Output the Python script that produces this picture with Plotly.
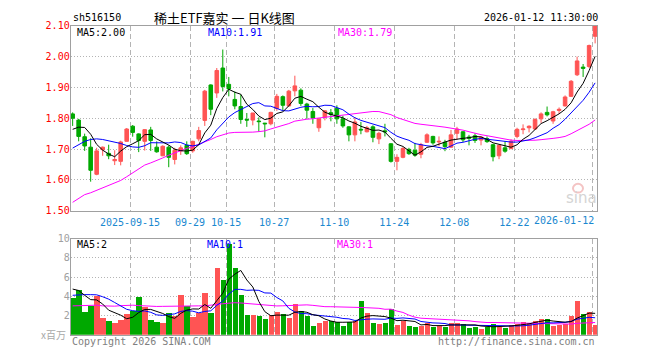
import pandas as pd
import plotly.graph_objects as go

# ---------------- data ----------------
dates = ["2025-09-15", "09-29", "10-15", "10-27", "11-10", "11-24", "12-08", "12-22", "2026-01-12"]
date_index = [10, 20, 26, 34, 44, 54, 64, 74, 87]

opens = [1.814, 1.794, 1.740, 1.706, 1.618, 1.698, 1.686, 1.662, 1.660, 1.725,
         1.774, 1.749, 1.725, 1.762, 1.706, 1.678, 1.706, 1.666, 1.694, 1.712,
         1.694, 1.733, 1.793, 1.908, 1.882, 1.963, 1.910, 1.861, 1.838, 1.796,
         1.794, 1.791, 1.784, 1.782, 1.832, 1.870, 1.840, 1.889, 1.891, 1.846,
         1.822, 1.769, 1.803, 1.818, 1.832, 1.798, 1.772, 1.746, 1.764, 1.756,
         1.772, 1.733, 1.759, 1.717, 1.660, 1.673, 1.699, 1.696, 1.683, 1.722,
         1.741, 1.723, 1.722, 1.706, 1.751, 1.756, 1.739, 1.743, 1.729, 1.734,
         1.714, 1.678, 1.704, 1.702, 1.741, 1.763, 1.769, 1.765, 1.798, 1.819,
         1.791, 1.825, 1.840, 1.871, 1.941, 1.966, 1.968, 2.066]
highs = [1.819, 1.798, 1.750, 1.735, 1.704, 1.708, 1.714, 1.696, 1.727, 1.768,
         1.778, 1.751, 1.765, 1.772, 1.725, 1.712, 1.712, 1.704, 1.712, 1.725,
         1.727, 1.772, 1.892, 1.910, 1.963, 2.023, 1.934, 1.887, 1.877, 1.817,
         1.817, 1.803, 1.785, 1.821, 1.879, 1.874, 1.892, 1.938, 1.897, 1.850,
         1.833, 1.800, 1.826, 1.830, 1.842, 1.808, 1.774, 1.803, 1.788, 1.775,
         1.777, 1.756, 1.782, 1.719, 1.683, 1.706, 1.704, 1.720, 1.720, 1.751,
         1.743, 1.741, 1.730, 1.762, 1.772, 1.758, 1.746, 1.751, 1.741, 1.741,
         1.717, 1.714, 1.725, 1.732, 1.769, 1.780, 1.777, 1.800, 1.819, 1.838,
         1.824, 1.835, 1.874, 1.924, 2.000, 1.976, 2.039, 2.100]
lows = [1.775, 1.725, 1.694, 1.594, 1.615, 1.678, 1.667, 1.648, 1.647, 1.725,
        1.740, 1.690, 1.695, 1.694, 1.688, 1.677, 1.641, 1.650, 1.681, 1.681,
        1.688, 1.725, 1.775, 1.810, 1.866, 1.887, 1.871, 1.829, 1.782, 1.772,
        1.777, 1.756, 1.738, 1.777, 1.824, 1.824, 1.838, 1.871, 1.840, 1.798,
        1.782, 1.756, 1.793, 1.790, 1.782, 1.769, 1.725, 1.725, 1.748, 1.754,
        1.722, 1.716, 1.741, 1.656, 1.631, 1.670, 1.681, 1.675, 1.670, 1.720,
        1.714, 1.709, 1.693, 1.704, 1.730, 1.723, 1.712, 1.720, 1.712, 1.720,
        1.660, 1.667, 1.688, 1.699, 1.735, 1.748, 1.754, 1.762, 1.785, 1.806,
        1.782, 1.814, 1.838, 1.869, 1.937, 1.934, 1.963, 2.043]
closes = [1.800, 1.741, 1.710, 1.631, 1.694, 1.706, 1.678, 1.666, 1.723, 1.765,
          1.754, 1.728, 1.763, 1.728, 1.691, 1.709, 1.673, 1.696, 1.704, 1.685,
          1.725, 1.760, 1.888, 1.829, 1.955, 1.903, 1.895, 1.840, 1.796, 1.794,
          1.817, 1.789, 1.782, 1.819, 1.871, 1.842, 1.888, 1.905, 1.848, 1.826,
          1.801, 1.798, 1.824, 1.812, 1.798, 1.775, 1.746, 1.788, 1.762, 1.769,
          1.738, 1.751, 1.756, 1.660, 1.673, 1.702, 1.685, 1.680, 1.714, 1.746,
          1.720, 1.725, 1.708, 1.746, 1.765, 1.730, 1.735, 1.728, 1.739, 1.724,
          1.675, 1.712, 1.693, 1.725, 1.764, 1.765, 1.774, 1.796, 1.814, 1.811,
          1.821, 1.829, 1.869, 1.920, 1.986, 1.962, 2.036, 2.100]
volumes = [3.9, 4.7, 2.4, 3.05, 4.05, 1.75, 1.5, 1.25, 1.6, 2.2,
           2.5, 3.95, 2.9, 1.6, 1.35, 1.25, 2.3, 2.0, 4.2, 3.05,
           1.85, 2.25, 4.35, 2.25, 7.0, 5.75, 9.5, 7.0, 4.2, 2.05,
           2.1, 1.95, 1.7, 2.05, 2.4, 2.2, 1.8, 3.2, 2.5, 1.95,
           0.95, 1.25, 1.5, 1.45, 1.33, 0.93, 1.4, 1.5, 3.5, 2.33,
           1.2, 1.1, 1.3, 2.7, 1.0, 1.43, 0.93, 0.8, 0.93, 1.23,
           0.83, 0.9, 0.83, 1.27, 1.2, 1.13, 0.7, 0.8, 0.67, 0.83,
           1.1, 0.83, 0.77, 1.0, 1.17, 1.4, 1.3, 1.5, 1.7, 1.67,
           0.93, 1.07, 1.13, 2.0, 3.5, 2.2, 2.4, 1.0]

# moving-average values at the left edge depend on days before the window
ma5_head = [1.764, 1.771, 1.770, 1.748]
ma10_head = [1.703, 1.715, 1.725, 1.731, 1.733, 1.731, 1.727, 1.722, 1.718]
ma30_head = [1.527, 1.540, 1.552, 1.558, 1.566, 1.573, 1.580, 1.589, 1.598, 1.610,
             1.622, 1.636, 1.648, 1.655, 1.662, 1.671, 1.680, 1.688, 1.696, 1.702,
             1.708, 1.715, 1.723, 1.731, 1.740, 1.747, 1.752, 1.754, 1.754]
vma5_head = [4.75, 4.6, 4.1, 3.65]
vma10_head = [4.1, 4.15, 4.17, 4.17, 4.15, 3.95, 3.7, 3.35, 3.0]
vma30_head = [3.0, 3.02, 3.04, 3.05, 3.07, 3.0, 2.95, 2.97, 3.02, 3.05,
              3.07, 3.03, 2.98, 2.95, 2.94, 2.95, 2.97, 2.98, 3.0, 3.0,
              3.0, 3.0, 3.0, 3.05, 3.15, 3.22, 3.28, 3.33, 3.3]

price_ticks = [1.50, 1.60, 1.70, 1.80, 1.90, 2.00, 2.10]
vol_ticks = [2, 4, 6, 8, 10]


def moving_avg(values, n, head):
    s = pd.Series(values, dtype=float).rolling(n).mean()
    s.iloc[:n - 1] = head
    return s.tolist()


ma5 = moving_avg(closes, 5, ma5_head)
ma10 = moving_avg(closes, 10, ma10_head)
ma30 = moving_avg(closes, 30, ma30_head)
vma5 = moving_avg(volumes, 5, vma5_head)
vma10 = moving_avg(volumes, 10, vma10_head)
vma30 = moving_avg(volumes, 30, vma30_head)

# ---------------- styling ----------------
W, H = 660, 360
RED = "#FF5454"
GREEN = "#00A800"
GRID = "#B4B4B4"
FRAME = "#A0A0A0"
MONO = "DejaVu Sans Mono, Liberation Mono, monospace"
CJK = "Noto Sans CJK SC, sans-serif"
DATE_COLOR = "#1A88D0"

idx = list(range(len(closes)))
bar_colors = [RED if c >= o else GREEN for o, c in zip(opens, closes)]


def px(x):
    return x / W


def py(y):
    return 1 - y / H


fig = go.Figure()

fig.add_trace(go.Candlestick(
    x=idx, open=opens, high=highs, low=lows, close=closes,
    increasing=dict(line=dict(color=RED, width=1), fillcolor=RED),
    decreasing=dict(line=dict(color=GREEN, width=1), fillcolor=GREEN),
    whiskerwidth=0, xaxis="x", yaxis="y", showlegend=False, hoverinfo="skip"))

for vals, col in [(ma30, "#FF00FF"), (ma10, "#0000FF"), (ma5, "#000000")]:
    fig.add_trace(go.Scatter(x=idx, y=vals, mode="lines", line=dict(color=col, width=1),
                             xaxis="x", yaxis="y", showlegend=False, hoverinfo="skip"))

fig.add_trace(go.Bar(x=idx, y=volumes, marker=dict(color=bar_colors, line=dict(width=0)),
                     width=0.86, xaxis="x2", yaxis="y2", showlegend=False, hoverinfo="skip"))

for vals, col in [(vma30, "#FF00FF"), (vma10, "#0000FF"), (vma5, "#000000")]:
    fig.add_trace(go.Scatter(x=idx, y=vals, mode="lines", line=dict(color=col, width=1),
                             xaxis="x2", yaxis="y2", showlegend=False, hoverinfo="skip"))

x_dom = [px(70.7), px(597.4)]
x_range = [-0.325, 87.38]
grid_pos = [i - 0.45 for i in date_index]
# the last date label is pushed left so that it stays inside the frame
tick_text = dates[:-1] + [""]

common_x = dict(domain=x_dom, range=x_range, showgrid=True, gridcolor=GRID, griddash="5px,3px",
                gridwidth=1, showline=True, mirror=True, linecolor=FRAME, linewidth=1,
                zeroline=False, ticks="", fixedrange=True)

fig.update_layout(
    width=W, height=H,
    margin=dict(l=0, r=0, t=0, b=0),
    paper_bgcolor="white", plot_bgcolor="white",
    boxgap=0.15, bargap=0,
    xaxis=dict(**common_x, anchor="y", tickmode="array", tickvals=grid_pos, ticktext=tick_text,
               tickfont=dict(family=MONO, size=10, color=DATE_COLOR),
               rangeslider=dict(visible=False), ticklabelstandoff=2),
    yaxis=dict(domain=[py(211.7), py(20.5)], range=[1.5, 2.1], anchor="x",
               tickmode="array", tickvals=price_ticks, ticktext=["%.2f" % v for v in price_ticks],
               tickfont=dict(family=MONO, size=10, color="#FF0000"),
               showgrid=True, gridcolor=GRID, griddash="1px,2px", gridwidth=1,
               showline=True, mirror=True, linecolor=FRAME, linewidth=1,
               zeroline=False, ticks="", fixedrange=True, ticklabelstandoff=-2),
    xaxis2=dict(**common_x, anchor="y2", matches="x", tickmode="array", tickvals=grid_pos,
                showticklabels=False),
    yaxis2=dict(domain=[py(340), py(240.7)], range=[0, 10], anchor="x2",
                tickmode="array", tickvals=vol_ticks, ticktext=[str(v) for v in vol_ticks],
                tickfont=dict(family=MONO, size=10, color="#A0A0A0"),
                showgrid=True, gridcolor=GRID, griddash="1px,2px", gridwidth=1,
                showline=True, mirror=True, linecolor=FRAME, linewidth=1,
                zeroline=False, ticks="", fixedrange=True, ticklabelstandoff=-2),
)


def label(text, x, y, color="#000000", size=10, family=MONO, anchor="left"):
    fig.add_annotation(text=text, x=px(x), y=py(y), xref="paper", yref="paper",
                       xanchor=anchor, yanchor="middle", showarrow=False,
                       font=dict(family=family, size=size, color=color))


label("sh516150", 70.6, 12)
label("稀土ETF嘉实 一 日K线图", 224.8, 11.5, size=13, family=CJK, anchor="center")
label("2026-01-12 11:30:00", 600, 12, anchor="right")

label("MA5:%.2f" % ma5[-1], 75, 27)
label("MA10:%.2f" % ma10[-1], 206, 27, color="#0000FF")
label("MA30:%.2f" % ma30[-1], 336.3, 27, color="#FF00FF")

label(dates[-1], 596, 222, color=DATE_COLOR, anchor="right")

label("MA5:%d" % int(vma5[-1]), 75, 247)
label("MA10:%d" % int(vma10[-1]), 205, 247, color="#0000FF")
label("MA30:%d" % int(vma30[-1]), 334.7, 247, color="#FF00FF")

label("x百万", 38.5, 340, color="#A8A8A8", size=10, family=CJK)
label("Copyright 2026 SINA.COM", 70, 347, color="#808080")
label("http://finance.sina.com.cn", 597.3, 347, color="#808080", anchor="right")

# faint sina watermark
fig.add_shape(type="circle", xref="paper", yref="paper",
              x0=px(573), x1=px(583), y0=py(193), y1=py(184),
              line=dict(color="#F4C4C4", width=2), fillcolor="rgba(0,0,0,0)")
label("sina", 581, 199, color="#D4D4D4", size=15, family="DejaVu Sans", anchor="center")

fig.write_html("out.html", config={"displayModeBar": False},
               post_script="document.body.style.margin='0';document.body.style.overflow='hidden';")
